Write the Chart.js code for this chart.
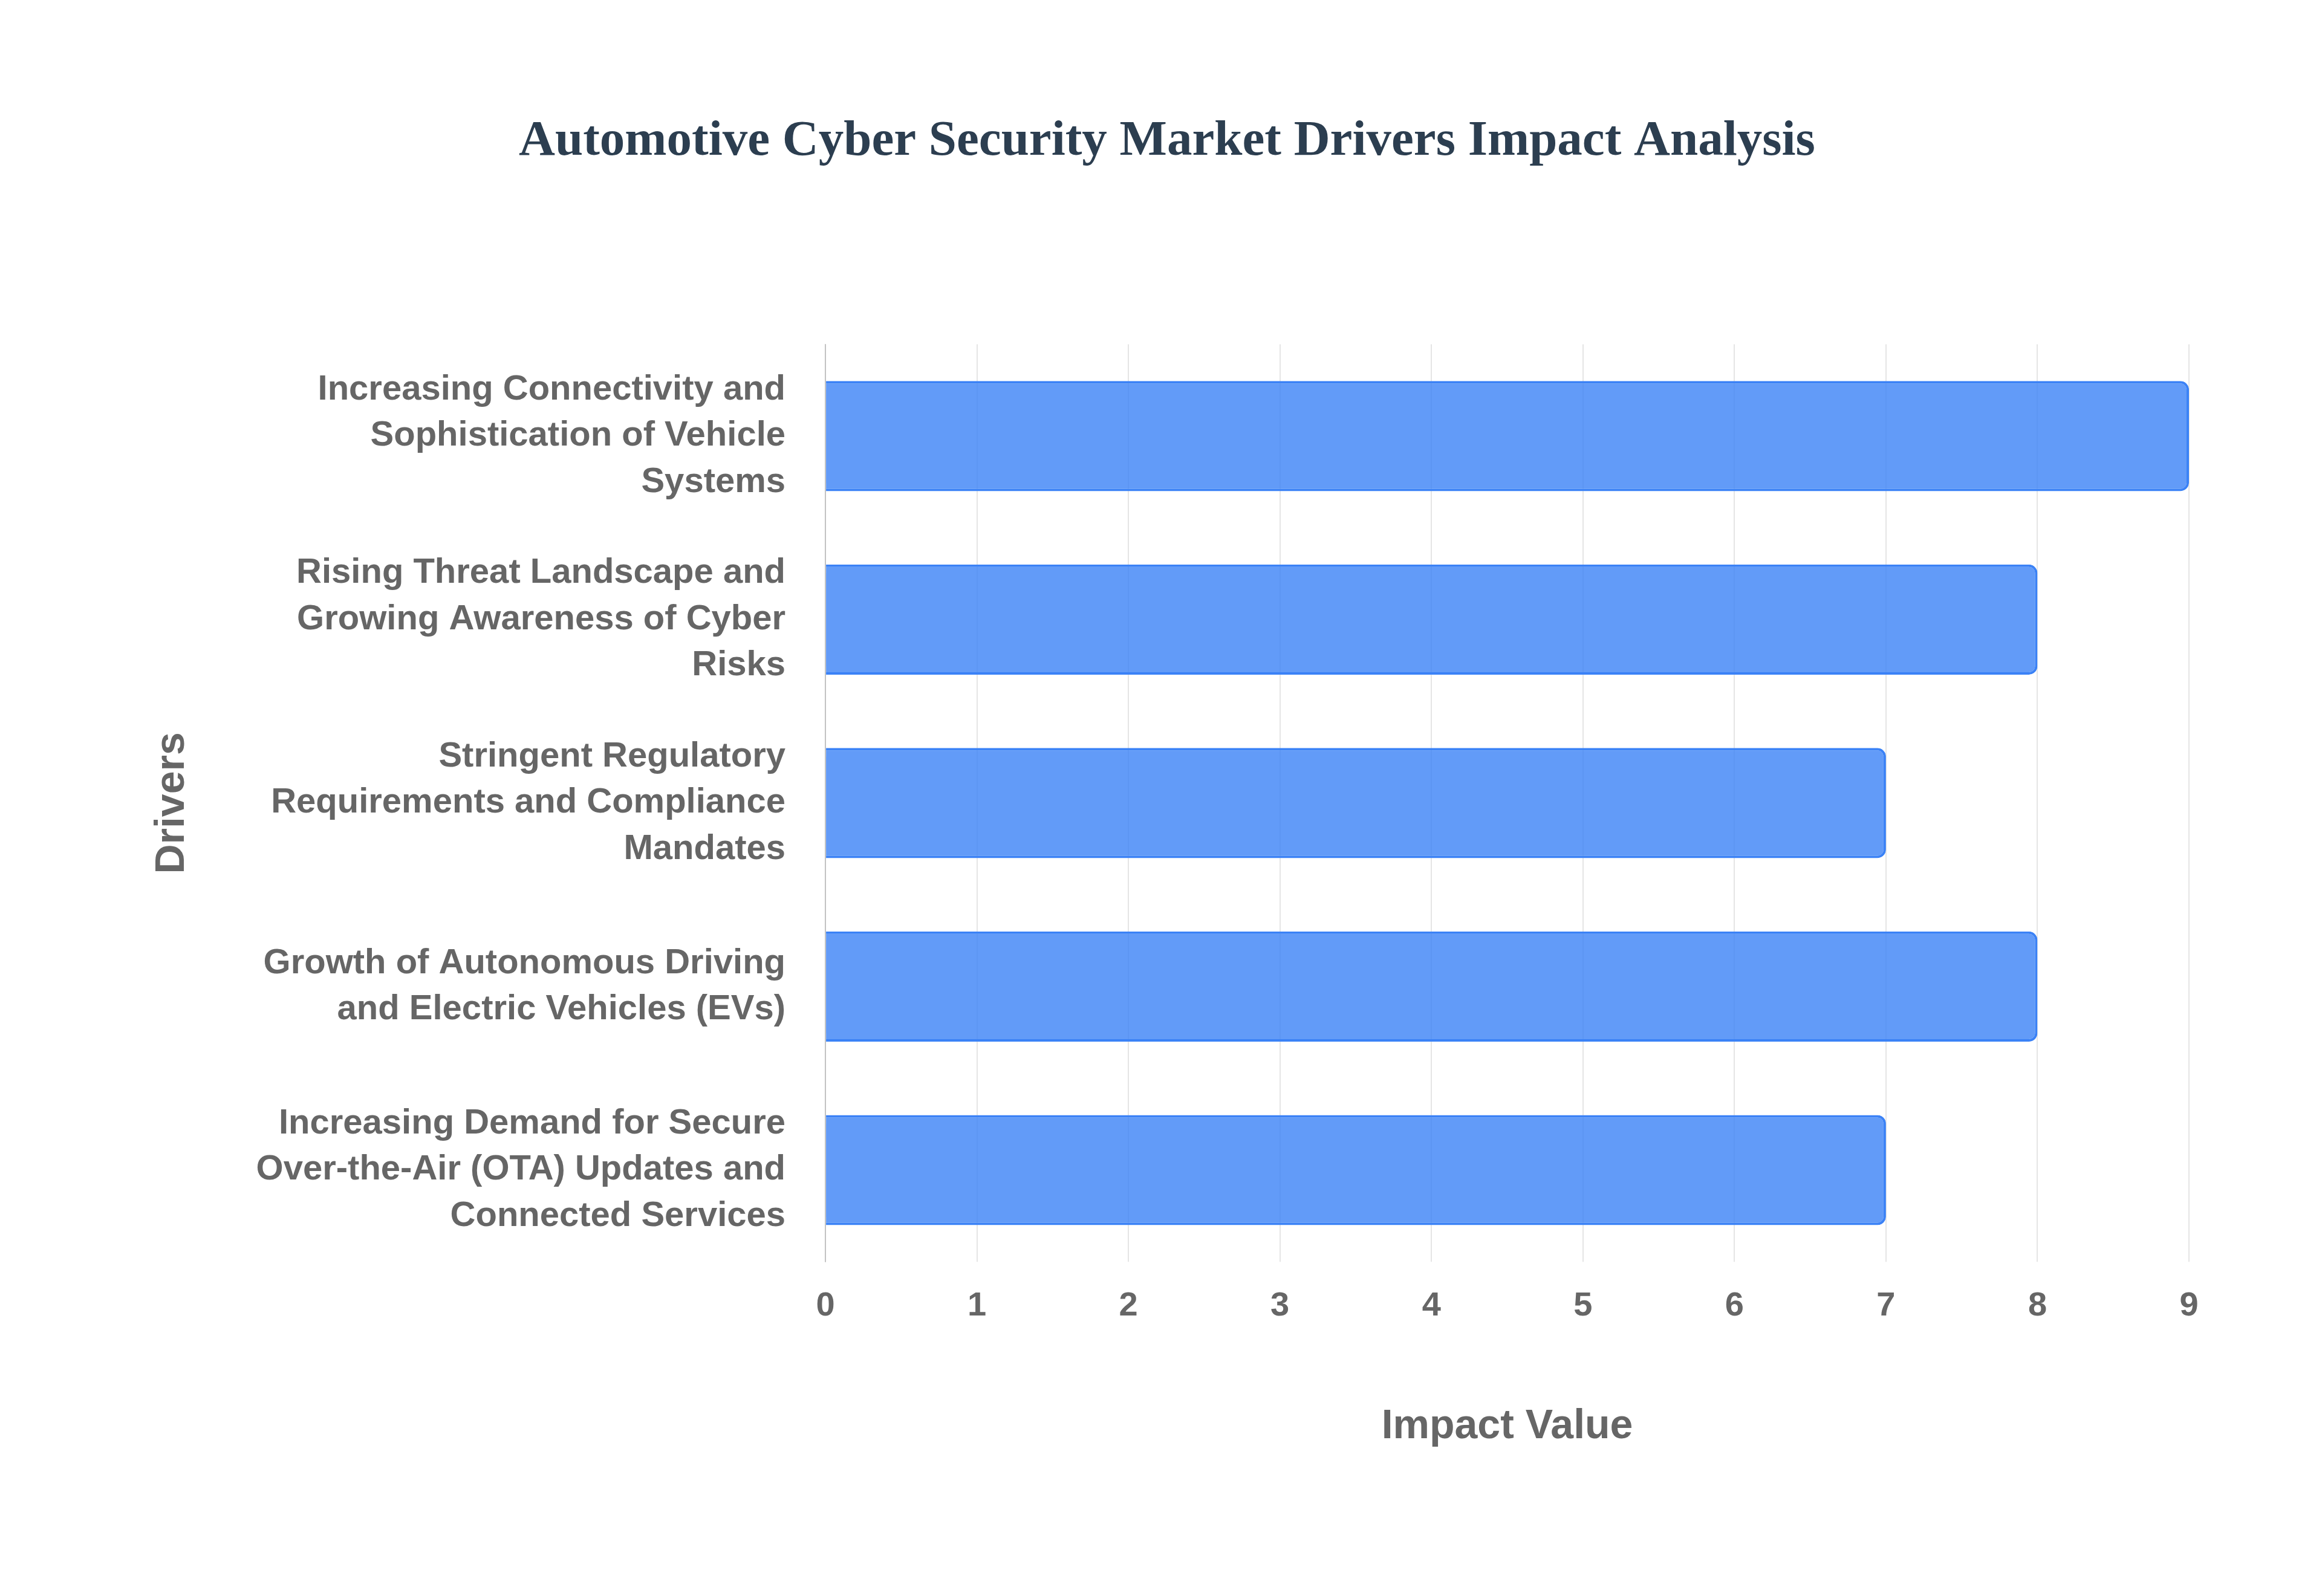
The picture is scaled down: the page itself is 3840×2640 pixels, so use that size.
<!DOCTYPE html>
<html><head><meta charset="utf-8">
<script src="https://cdn.jsdelivr.net/npm/chart.js@4/dist/chart.umd.min.js"></script>
<style>html,body{margin:0;background:#fff}#w{width:3840px;height:2640px}</style>
</head><body><div id="w"><canvas id="c" width="3840" height="2640"></canvas></div>
<script>
const categories = [
 ["Increasing Connectivity and","Sophistication of Vehicle","Systems"],
 ["Rising Threat Landscape and","Growing Awareness of Cyber","Risks"],
 ["Stringent Regulatory","Requirements and Compliance","Mandates"],
 ["Growth of Autonomous Driving","and Electric Vehicles (EVs)"],
 ["Increasing Demand for Secure","Over-the-Air (OTA) Updates and","Connected Services"]
];
const impactValues = [9, 8, 7, 8, 7];
const titleText = "Automotive Cyber Security Market Drivers Impact Analysis";
const font = "'Liberation Sans', Arial, sans-serif";
new Chart(document.getElementById('c'), {
 type: 'bar',
 data: { labels: categories, datasets: [{ data: impactValues,
   backgroundColor: 'rgba(59,130,246,0.8)', borderColor: '#3b82f6', borderWidth: 4,
   borderRadius: 14, borderSkipped: 'start', barPercentage: 0.6, categoryPercentage: 1 }] },
 options: {
  indexAxis: 'y', responsive: false, devicePixelRatio: 1, animation: false,
  layout: { padding: { left: 240, right: 220, top: 185, bottom: 235 } },
  plugins: { legend: { display: false }, tooltip: { enabled: false },
   title: { display: true, text: titleText, color: '#2c3e50',
     font: { family: "'Liberation Serif', 'Times New Roman', serif", size: 83, weight: 'bold' },
     padding: { top: 0, bottom: 285 } } },
  scales: {
   x: { min: 0, max: 9, ticks: { stepSize: 1, color: '#666', padding: 40, font: { family: font, size: 56, weight: 'bold' } },
     grid: { color: 'rgba(0,0,0,0.1)', lineWidth: 2, tickLength: 0 }, border: { display: false },
     title: { display: true, text: 'Impact Value', color: '#666', padding: { top: 85 }, font: { family: font, size: 68, weight: 'bold' } } },
   y: { ticks: { color: '#666', padding: 58, font: { family: font, size: 58, weight: 'bold', lineHeight: 1.32 } },
     grid: { display: false }, border: { color: 'rgba(0,0,0,0.15)', width: 2 },
     title: { display: true, text: 'Drivers', color: '#666', padding: { bottom: 40 }, font: { family: font, size: 68, weight: 'bold' } } }
  }
 }
});
</script></body></html>
